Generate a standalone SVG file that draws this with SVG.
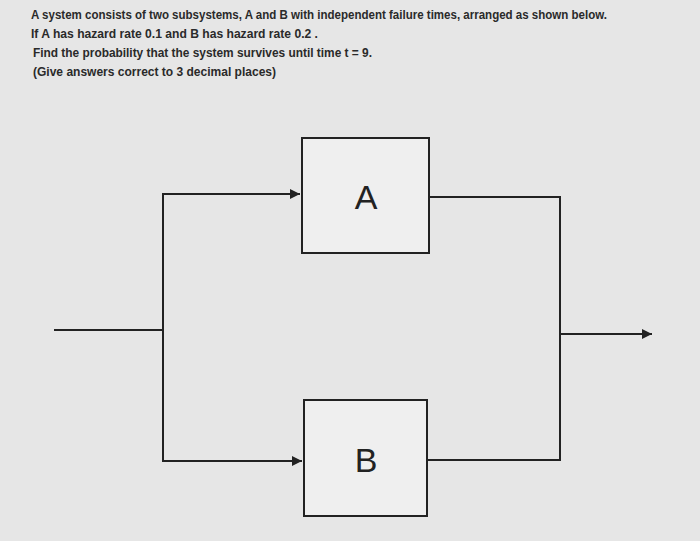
<svg xmlns="http://www.w3.org/2000/svg" width="700" height="541" viewBox="0 0 700 541">
<style>
.t{font-family:"Liberation Sans",Arial,sans-serif;font-size:12px;font-weight:bold;fill:#2a2a2a}
.box{fill:#efefef;stroke:#222;stroke-width:2}
.ln{fill:none;stroke:#222;stroke-width:2}
.lb{font-family:"Liberation Sans",Arial,sans-serif;font-size:34px;fill:#222;text-anchor:middle}
</style>
<defs><marker id="ar" viewBox="0 0 10 10" refX="10" refY="5" markerWidth="5" markerHeight="5" orient="auto"><path d="M0,0L10,5L0,10z" fill="#222"/></marker></defs>
<rect width="700" height="541" fill="#e6e6e6"/>
<text class="t" x="31" y="19" textLength="576" lengthAdjust="spacingAndGlyphs">A system consists of two subsystems, A and B with independent failure times, arranged as shown below.</text>
<text class="t" x="31" y="38" textLength="287" lengthAdjust="spacingAndGlyphs">If A has hazard rate 0.1 and B has hazard rate 0.2 .</text>
<text class="t" x="33" y="57" textLength="339" lengthAdjust="spacingAndGlyphs">Find the probability that the system survives until time t = 9.</text>
<text class="t" x="33" y="76" textLength="243" lengthAdjust="spacingAndGlyphs">(Give answers correct to 3 decimal places)</text>
<g id="connectors">
<path class="ln" d="M54,330H163V194H300" marker-end="url(#ar)"/>
<path class="ln" d="M163,330V461H302" marker-end="url(#ar)"/>
<path class="ln" d="M429,197H560V460H427"/>
<path class="ln" d="M560,334H652" marker-end="url(#ar)"/>
</g>
<g id="A"><rect class="box" x="302" y="138" width="127" height="115"/><text class="lb" x="366" y="209">A</text></g>
<g id="B"><rect class="box" x="304" y="400" width="123" height="116"/><text class="lb" x="366" y="472">B</text></g>
</svg>
